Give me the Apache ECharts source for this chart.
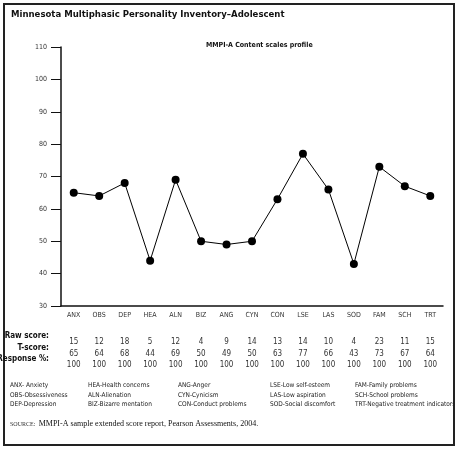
<!DOCTYPE html>
<html><head><meta charset="utf-8">
<script src="https://cdn.jsdelivr.net/npm/echarts@6/dist/echarts.min.js"></script>
<style>html,body{margin:0;padding:0;background:#fff}#c{width:459px;height:450px}</style>
</head><body><div id="c"></div>
<script>
var scales = ['ANX','OBS','DEP','HEA','ALN','BIZ','ANG','CYN','CON','LSE','LAS','SOD','FAM','SCH','TRT'];
var tScores = [65,64,68,44,69,50,49,50,63,77,66,43,73,67,64];
var rawScores = [15,12,18,5,12,4,9,14,13,14,10,4,23,11,15];
var responsePct = [100,100,100,100,100,100,100,100,100,100,100,100,100,100,100];
var rowLabels = ['Raw score:', 'T-score:', 'Response %:'];
var legendCols = [
  ['ANX- Anxiety','OBS-Obsessiveness','DEP-Depression'],
  ['HEA-Health concerns','ALN-Alienation','BIZ-Bizarre mentation'],
  ['ANG-Anger','CYN-Cynicism','CON-Conduct problems'],
  ['LSE-Low self-esteem','LAS-Low aspiration','SOD-Social discomfort'],
  ['FAM-Family problems','SCH-School problems','TRT-Negative treatment indicators']
];

var font = '"Liberation Sans Narrow", "DejaVu Sans Condensed", sans-serif';
var chart = echarts.init(document.getElementById('c'));

function rowAxis(vals, off) {
  return {
    type: 'category', data: vals.map(String), position: 'bottom', offset: off,
    axisLine: {show: false}, axisTick: {show: false},
    axisLabel: {color: '#333', fontSize: 8, fontFamily: font}
  };
}

var graphics = [
  {type: 'rect', shape: {x: 4, y: 4, width: 450, height: 441}, style: {fill: 'none', stroke: '#222', lineWidth: 2}},
  {type: 'text', left: 11, top: 10, style: {text: 'Minnesota Multiphasic Personality Inventory–Adolescent', font: 'bold 9.5px ' + font, fill: '#111'}},
  {type: 'text', left: 206, top: 42, style: {text: 'MMPI-A Content scales profile', font: 'bold 7px ' + font, fill: '#111'}},
  {type: 'text', left: 10, top: 418, style: {rich: {
    a: {fontSize: 6, fontFamily: 'Liberation Serif', fill: '#333'},
    b: {fontSize: 8, fontFamily: 'Liberation Serif', fill: '#111'}
  }, text: '{a|SOURCE:} {b|MMPI-A sample extended score report, Pearson Assessments, 2004.}'}}
];
var rowY = [336, 348, 359];
rowLabels.forEach(function (t, i) {
  graphics.push({type: 'text', x: 49, y: rowY[i], style: {text: t, font: 'bold 8px ' + font, fill: '#111', align: 'right', verticalAlign: 'middle'}});
});
var colX = [10, 88, 178, 270, 355];
legendCols.forEach(function (col, i) {
  graphics.push({type: 'text', left: colX[i], top: 381, style: {text: col.join('\n'), font: '6.5px ' + font, fill: '#222', lineHeight: 9.5}});
});

chart.setOption({
  animation: false,
  grid: {left: 61, right: 16, top: 47, bottom: 144},
  xAxis: [
    {type: 'category', data: scales,
      axisLine: {lineStyle: {color: '#111', width: 1.5}},
      axisTick: {alignWithLabel: true, length: 4, lineStyle: {color: '#111'}},
      axisLabel: {color: '#333', fontSize: 7, fontFamily: font, margin: 6}},
    rowAxis(rawScores, 24),
    rowAxis(tScores, 36),
    rowAxis(responsePct, 47)
  ],
  yAxis: {type: 'value', min: 30, max: 110, interval: 10,
    splitLine: {show: false},
    axisLine: {show: true, lineStyle: {color: '#111', width: 1.5}},
    axisTick: {show: true, inside: false, length: 10, lineStyle: {color: '#111'}},
    axisLabel: {color: '#333', fontSize: 7, fontFamily: font, margin: 14}},
  series: [{type: 'line', data: tScores, symbol: 'circle', symbolSize: 8,
    itemStyle: {color: '#000'}, lineStyle: {color: '#000', width: 1}}],
  graphic: graphics
});
</script></body></html>
